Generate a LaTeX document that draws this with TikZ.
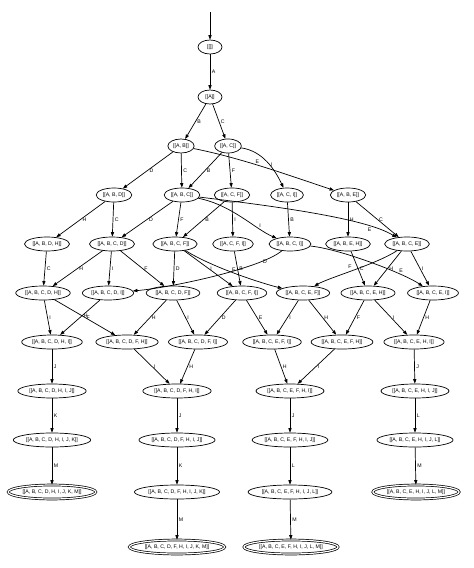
\documentclass[tikz,border=0pt]{standalone}
\usepackage{fontspec}
\setmainfont{Liberation Sans}
\usetikzlibrary{arrows.meta,shapes.geometric}

\begin{document}
\begin{tikzpicture}[x=1pt,y=1pt,
	st/.style={draw,ellipse,line width=0.7pt,inner xsep=1.5pt,inner ysep=1pt,minimum width=24pt,minimum height=14pt,font=\fontsize{5.2}{6}\selectfont},
	fin/.style={st,double,double distance=1.2pt},
	tr/.style={-{Triangle[length=4.5pt,width=3.2pt]},line width=0.7pt},
	lbl/.style={font=\fontsize{5.2}{6}\selectfont,inner sep=1.5pt,right}]
	\useasboundingbox (0,0) rectangle (474,-568);

	\coordinate (top) at (210,-12);
	\node[st] (s) at (210,-47) {[[]]};
	\node[st] (a) at (210,-97) {[[A]]};
	\node[st] (ab) at (181,-146) {[[A, B]]};
	\node[st] (ac) at (228,-146) {[[A, C]]};

	\node[st] (abd) at (114,-195) {[[A, B, D]]};
	\node[st] (abc) at (182,-195) {[[A, B, C]]};
	\node[st] (acf) at (232,-195) {[[A, C, F]]};
	\node[st] (aci) at (287,-195) {[[A, C, I]]};
	\node[st] (abe) at (348,-195) {[[A, B, E]]};

	\node[st] (abdh) at (47,-244) {[[A, B, D, H]]};
	\node[st] (abcd) at (112,-244) {[[A, B, C, D]]};
	\node[st] (abcf) at (175,-244) {[[A, B, C, F]]};
	\node[st] (acfi) at (233,-244) {[[A, C, F, I]]};
	\node[st] (abci) at (290,-244) {[[A, B, C, I]]};
	\node[st] (abeh) at (348,-244) {[[A, B, E, H]]};
	\node[st] (abce) at (407,-244) {[[A, B, C, E]]};

	\node[st] (abcdh) at (43,-293) {[[A, B, C, D, H]]};
	\node[st] (abcdi) at (108,-293) {[[A, B, C, D, I]]};
	\node[st] (abcdf) at (173,-293) {[[A, B, C, D, F]]};
	\node[st] (abcfi) at (242,-293) {[[A, B, C, F, I]]};
	\node[st] (abcef) at (303,-293) {[[A, B, C, E, F]]};
	\node[st] (abceh) at (368,-293) {[[A, B, C, E, H]]};
	\node[st] (abcei) at (433,-293) {[[A, B, C, E, I]]};

	\node[st] (abcdhi) at (52,-342) {[[A, B, C, D, H, I]]};
	\node[st] (abcdfh) at (127,-342) {[[A, B, C, D, F, H]]};
	\node[st] (abcdfi) at (198,-342) {[[A, B, C, D, F, I]]};
	\node[st] (abcefi) at (272,-342) {[[A, B, C, E, F, I]]};
	\node[st] (abcefh) at (342,-342) {[[A, B, C, E, F, H]]};
	\node[st] (abcehi) at (414,-342) {[[A, B, C, E, H, I]]};

	\node[st] (abcdhij) at (52,-391) {[[A, B, C, D, H, I, J]]};
	\node[st] (abcdfhi) at (177,-391) {[[A, B, C, D, F, H, I]]};
	\node[st] (abcefhi) at (290,-391) {[[A, B, C, E, F, H, I]]};
	\node[st] (abcehij) at (415,-391) {[[A, B, C, E, H, I, J]]};

	\node[st] (abcdhijk) at (52,-440) {[[A, B, C, D, H, I, J, K]]};
	\node[st] (abcdfhij) at (177,-440) {[[A, B, C, D, F, H, I, J]]};
	\node[st] (abcefhij) at (290,-440) {[[A, B, C, E, F, H, I, J]]};
	\node[st] (abcehijl) at (415,-440) {[[A, B, C, E, H, I, J, L]]};

	\node[fin] (abcdhijkm) at (52,-492) {[[A, B, C, D, H, I, J, K, M]]};
	\node[st] (abcdfhijk) at (177,-492) {[[A, B, C, D, F, H, I, J, K]]};
	\node[st] (abcefhijl) at (290,-492) {[[A, B, C, E, F, H, I, J, L]]};
	\node[fin] (abcehijlm) at (416,-492) {[[A, B, C, E, H, I, J, L, M]]};

	\node[fin] (abcdfhijkm) at (177,-547) {[[A, B, C, D, F, H, I, J, K, M]]};
	\node[fin] (abcefhijlm) at (291,-547) {[[A, B, C, E, F, H, I, J, L, M]]};

	% top
	\draw[tr] (top) -- (s);
	\draw[tr] (s) -- node[lbl] {A} (a);
	\draw[tr] (a) -- node[lbl] {B} (ab);
	\draw[tr] (a) -- node[lbl] {C} (ac);

	\draw[tr] (ab) -- node[lbl] {D} (abd);
	\draw[tr] (ab) -- node[lbl] {C} (abc);
	\draw[tr] (ac) -- node[lbl] {B} (abc);
	\draw[tr] (ac) -- node[lbl] {F} (acf);
	\draw[tr] (ab) .. controls +(60,-12) and +(-60,20) .. node[lbl,pos=.45,above] {E} (abe);
	\draw[tr] (ac) .. controls +(35,-5) and +(-12,25) .. node[lbl,pos=.55] {I} (aci);

	\draw[tr] (abd) -- node[lbl] {H} (abdh);
	\draw[tr] (abd) -- node[lbl] {C} (abcd);
	\draw[tr] (abc) -- node[lbl] {D} (abcd);
	\draw[tr] (abc) -- node[lbl] {F} (abcf);
	\draw[tr] (acf) -- node[lbl] {B} (abcf);
	\draw[tr] (acf) -- node[lbl] {I} (acfi);
	\draw[tr] (abc) .. controls +(50,-10) and +(-35,15) .. node[lbl,pos=.75,above] {I} (abci);
	\draw[tr] (aci) -- node[lbl] {B} (abci);
	\draw[tr] (abe) -- node[lbl] {H} (abeh);
	\draw[tr] (abc) .. controls +(100,-12) and +(-40,25) .. node[lbl,pos=.78,below] {E} (abce);
	\draw[tr] (abe) -- node[lbl] {C} (abce);

	\draw[tr] (abdh) -- node[lbl] {C} (abcdh);
	\draw[tr] (abcd) -- node[lbl] {H} (abcdh);
	\draw[tr] (abcd) -- node[lbl] {I} (abcdi);
	\draw[tr] (abcd) -- node[lbl] {F} (abcdf);
	\draw[tr] (abcf) -- node[lbl] {D} (abcdf);
	\draw[tr] (abcf) -- node[lbl] {I} (abcfi);
	\draw[tr] (abcf) .. controls +(40,-25) and +(-35,8) .. node[lbl,pos=.45,above] {E} (abcef);
	\draw[tr] (acfi) -- node[lbl] {B} (abcfi);
	\draw[tr] (abci) .. controls +(-30,-25) and +(60,5) .. node[lbl,pos=.2] {D} (abcdi);
	\draw[tr] (abci) .. controls +(50,-5) and +(-30,20) .. node[lbl,pos=.75,above] {E} (abcei);
	\draw[tr] (abce) .. controls +(-30,-20) and +(25,15) .. node[lbl,pos=.5,above left] {F} (abcef);
	\draw[tr] (abeh) -- node[lbl] {C} (abceh);
	\draw[tr] (abce) -- node[lbl] {H} (abceh);
	\draw[tr] (abce) -- node[lbl] {I} (abcei);

	\draw[tr] (abcdh) -- node[lbl] {I} (abcdhi);
	\draw[tr] (abcdh) -- node[lbl] {F} (abcdfh);
	\draw[tr] (abcdi) -- node[lbl,pos=.45] {H} (abcdhi);
	\draw[tr] (abcdf) -- node[lbl] {H} (abcdfh);
	\draw[tr] (abcdf) -- node[lbl] {I} (abcdfi);
	\draw[tr] (abcfi) -- node[lbl] {D} (abcdfi);
	\draw[tr] (abcfi) -- node[lbl] {E} (abcefi);
	\draw[tr] (abcef) -- node[lbl] {I} (abcefi);
	\draw[tr] (abcef) -- node[lbl] {H} (abcefh);
	\draw[tr] (abceh) -- node[lbl] {F} (abcefh);
	\draw[tr] (abceh) -- node[lbl] {I} (abcehi);
	\draw[tr] (abcei) -- node[lbl] {H} (abcehi);

	\draw[tr] (abcdhi) -- node[lbl] {J} (abcdhij);
	\draw[tr] (abcdfh) -- node[lbl] {I} (abcdfhi);
	\draw[tr] (abcdfi) -- node[lbl] {H} (abcdfhi);
	\draw[tr] (abcefi) -- node[lbl] {H} (abcefhi);
	\draw[tr] (abcefh) -- node[lbl] {I} (abcefhi);
	\draw[tr] (abcehi) -- node[lbl] {J} (abcehij);

	% chains to the end states
	\draw[tr] (abcdhij) -- node[lbl] {K} (abcdhijk);
	\draw[tr] (abcdfhi) -- node[lbl] {J} (abcdfhij);
	\draw[tr] (abcefhi) -- node[lbl] {J} (abcefhij);
	\draw[tr] (abcehij) -- node[lbl] {L} (abcehijl);
	\draw[tr] (abcdhijk) -- node[lbl] {M} (abcdhijkm);
	\draw[tr] (abcdfhij) -- node[lbl] {K} (abcdfhijk);
	\draw[tr] (abcefhij) -- node[lbl] {L} (abcefhijl);
	\draw[tr] (abcehijl) -- node[lbl] {M} (abcehijlm);
	\draw[tr] (abcdfhijk) -- node[lbl] {M} (abcdfhijkm);
	\draw[tr] (abcefhijl) -- node[lbl] {M} (abcefhijlm);
\end{tikzpicture}
\end{document}
